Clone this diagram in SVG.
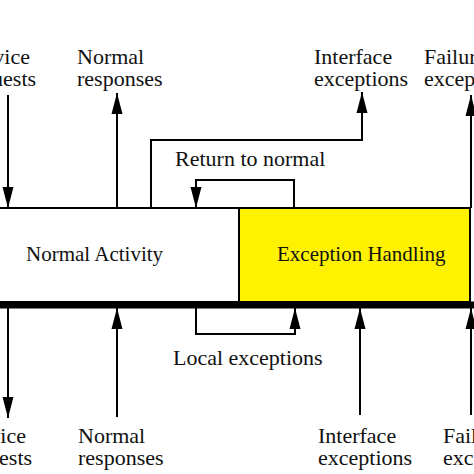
<svg xmlns="http://www.w3.org/2000/svg" width="474" height="474" viewBox="0 0 474 474">
<style>
text{font-family:"Liberation Serif","Times New Roman",serif;font-size:22px;fill:#111}
.box{font-size:21px}
.c{fill:none;stroke:#000;stroke-width:2}
</style>
<defs>
<marker id="ah" markerWidth="22" markerHeight="12" refX="21" refY="6" orient="auto" markerUnits="userSpaceOnUse">
<path d="M0,0.5 L21,6 L0,11.5 z" fill="#000"/>
</marker>
</defs>
<rect width="474" height="474" fill="#fff"/>
<g id="normal-activity">
<rect x="-2" y="208" width="241" height="94" fill="#fff" stroke="#000" stroke-width="2"/>
<text class="box" x="26" y="261">Normal Activity</text>
</g>
<g id="exception-handling">
<rect x="239" y="208" width="231" height="94" fill="#fff200" stroke="#000" stroke-width="2"/>
<text class="box" x="277" y="261">Exception Handling</text>
</g>
<g id="interface-bar">
<line x1="0" y1="305" x2="474" y2="305" stroke="#000" stroke-width="7"/>
</g>
<g id="connectors">
<line class="c" x1="8" y1="95" x2="8" y2="208" marker-end="url(#ah)"/>
<line class="c" x1="117" y1="208" x2="117" y2="93" marker-end="url(#ah)"/>
<polyline class="c" points="151,208 151,140 362,140 362,92" marker-end="url(#ah)"/>
<polyline class="c" points="294,208 294,180 196,180 196,208" marker-end="url(#ah)"/>
<line class="c" x1="471" y1="208" x2="471" y2="95" stroke-width="3" marker-end="url(#ah)"/>
<line class="c" x1="8" y1="308" x2="8" y2="418" marker-end="url(#ah)"/>
<line class="c" x1="117" y1="417" x2="117" y2="308" marker-end="url(#ah)"/>
<polyline class="c" points="196,308 196,334 295,334 295,308" marker-end="url(#ah)"/>
<line class="c" x1="360" y1="415" x2="360" y2="308" marker-end="url(#ah)"/>
<line class="c" x1="471" y1="415" x2="471" y2="308" marker-end="url(#ah)"/>
</g>
<g id="labels">
<text x="-36" y="64">Service</text>
<text x="-36" y="86">requests</text>
<text x="77" y="64">Normal</text>
<text x="77" y="86">responses</text>
<text x="314" y="64">Interface</text>
<text x="314" y="86">exceptions</text>
<text x="424" y="64">Failure</text>
<text x="424" y="86">exceptions</text>
<text x="175" y="166">Return to normal</text>
<text x="173" y="365">Local exceptions</text>
<text x="-40" y="443">Service</text>
<text x="-40" y="465">requests</text>
<text x="78" y="443">Normal</text>
<text x="78" y="465">responses</text>
<text x="318" y="443">Interface</text>
<text x="318" y="465">exceptions</text>
<text x="443" y="443">Failure</text>
<text x="443" y="465">exceptions</text>
</g>
</svg>
